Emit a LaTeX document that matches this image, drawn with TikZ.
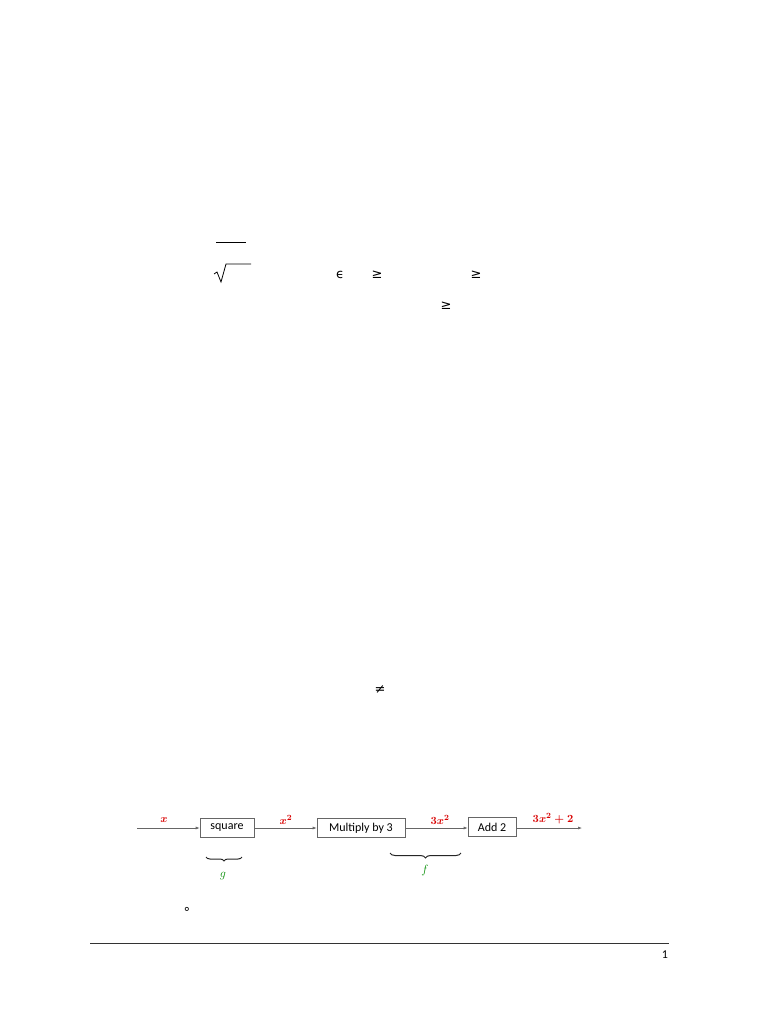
\documentclass[tikz,border=0pt]{standalone}
\usepackage{fontspec}
\newfontfamily\carlito{Carlito}
\newfontfamily\dejavu{DejaVu Sans}
\usetikzlibrary{decorations.pathreplacing,arrows.meta}
\begin{document}
\begin{tikzpicture}[x=1pt,y=-1pt,
  fbox/.style={draw=black!60,line width=0.6pt,minimum height=19pt,inner sep=0pt,font=\carlito\fontsize{12}{13}\selectfont},
  flow/.style={draw=black!60,line width=0.6pt,-{Latex[length=4pt,width=3pt]}},
  redlab/.style={text=red!85!black,font=\boldmath\fontsize{11}{12}\selectfont,inner sep=0pt},
  greenlab/.style={text=green!55!black,font=\fontsize{12}{13}\selectfont,inner sep=0pt},
  sym/.style={font=\dejavu\fontsize{13}{14}\selectfont,inner sep=0pt},
  brc/.style={decorate,decoration={brace,mirror,amplitude=#1},line width=1pt,draw=black!85},
  brc/.default=4pt]
\useasboundingbox (0,0) rectangle (768,1024);
\fill[white] (0,0) rectangle (768,1024);
% top fragments
\draw[line width=0.8pt] (216,242) -- (246,242);
\draw[line width=0.8pt] (214,274) -- (217,272) -- (221,282) -- (226,264) -- (251,264);
\node[sym] (eps) at (340,275) {ϵ};
\node[sym] (ge1) at (377,275) {≥};
\node[sym] (ge2) at (476,275) {≥};
\node[sym] (ge3) at (446,306) {≥};
\node[sym] (neq) at (380,690) {≠};
\node[sym] (circ) at (187,910) {∘};
% diagram
\coordinate (start) at (137,828);
\node[fbox,minimum width=54pt] (sq) at (227,828) {square};
\node[fbox,minimum width=88pt] (mul) at (361,828) {Multiply by 3};
\node[fbox,minimum width=48pt] (add) at (492,827) {Add 2};
\coordinate (end) at (582,828);
\draw[flow] (start) -- (sq.west);
\draw[flow] (sq.east) -- (mul.west);
\draw[flow] (mul.east) -- (add.west |- mul.east);
\draw[flow] (add.east |- mul.east) -- (end);
\node[redlab] (lx) at (164,820) {$x$};
\node[redlab] (lx2) at (286,820) {$x^2$};
\node[redlab] (l3x2) at (440,820) {$3x^2$};
\node[redlab] (lout) at (553,819) {$3x^2+2$};
\coordinate (gb1) at (206,857);
\coordinate (gb2) at (242,857);
\draw[brc] (gb1) -- (gb2);
\node[greenlab] (g) at (223,876) {$g$};
\coordinate (fb1) at (390,853);
\coordinate (fb2) at (461,853);
\draw[brc=5pt] (fb1) -- (fb2);
\node[greenlab] (f) at (425,870) {$f$};
% footer
\coordinate (r1) at (90,943);
\coordinate (r2) at (669,943);
\draw[line width=0.9pt,black!80] (r1) -- (r2);
\node[font=\carlito\fontsize{12}{14}\selectfont,inner sep=0pt] (pg) at (665,955) {1};
\end{tikzpicture}
\end{document}
